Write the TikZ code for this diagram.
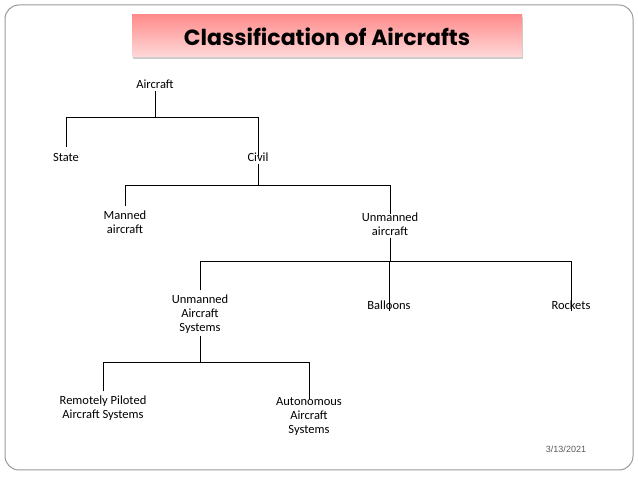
\documentclass[tikz,border=0pt]{standalone}
\usepackage{fontspec}
\setmainfont{Carlito}
\newfontfamily\titlefont{Poppins}[UprightFont=* Bold]
\newfontfamily\datefont{Liberation Sans}
\usetikzlibrary{shadows}
\begin{document}
\begin{tikzpicture}[x=1pt,y=-1pt,
  lbl/.style={align=center,font=\fontsize{12.5}{14}\selectfont,inner sep=1pt},
  ln/.style={line width=0.9pt,black}]
\useasboundingbox (0,0) rectangle (638,478);
\draw[gray!80,line width=1pt,rounded corners=14pt] (5,5) rectangle (633,470);
\shade[top color=red!45!white,bottom color=red!15!white,drop shadow={opacity=0.4,shadow xshift=1pt,shadow yshift=-2pt}] (132,15) rectangle (522,57);
\node[font=\titlefont\fontsize{22}{24}\selectfont] (title) at (327,37) {Classification of Aircrafts};
\node[lbl] (air) at (155,84) {Aircraft};
\node[lbl] (state) at (66,157) {State};
\node[lbl] (civil) at (258,157) {Civil};
\node[lbl] (man) at (125,222) {Manned\\aircraft};
\node[lbl] (unm) at (390,224) {Unmanned\\aircraft};
\node[lbl] (uas) at (200,314) {Unmanned\\Aircraft\\Systems};
\node[lbl] (bal) at (389,305) {Balloons};
\node[lbl] (roc) at (571,305) {Rockets};
\node[lbl] (rp) at (103,408) {Remotely Piloted\\Aircraft Systems};
\node[lbl] (aut) at (309,416) {Autonomous\\Aircraft\\Systems};
\node[font=\datefont\fontsize{9}{10}\selectfont,text=gray!70!black] (date) at (566,449) {3/13/2021};
\draw[ln] (air.south) ++(0,1) coordinate (a0) -- (a0 |- 0,117) coordinate (a1);
\draw[ln] (state.north) ++(0,-5) coordinate (s0) -- (s0 |- 0,117) -| ([yshift=-5pt]civil.north);
\draw[ln] (civil.south) ++(0,1) coordinate (c0) -- (c0 |- 0,185);
\draw[ln] (man.north) ++(0,-3) coordinate (m0) -- (m0 |- 0,185) -| ([yshift=-3pt]unm.north);
\draw[ln] (unm.south) ++(0,1) coordinate (u0) -- (u0 |- 0,261);
\draw[ln] (uas.north) ++(0,-3) coordinate (q0) -- (q0 |- 0,261) -| ([yshift=-12pt]roc.north);
\draw[ln] ([yshift=-12pt]bal.north) -- (bal.north |- 0,261);
\draw[ln] (uas.south) ++(0,1) coordinate (q1) -- (q1 |- 0,362);
\draw[ln] (rp.north) ++(0,-3) coordinate (r0) -- (r0 |- 0,362) -| ([yshift=-3pt]aut.north);
\end{tikzpicture}
\end{document}
